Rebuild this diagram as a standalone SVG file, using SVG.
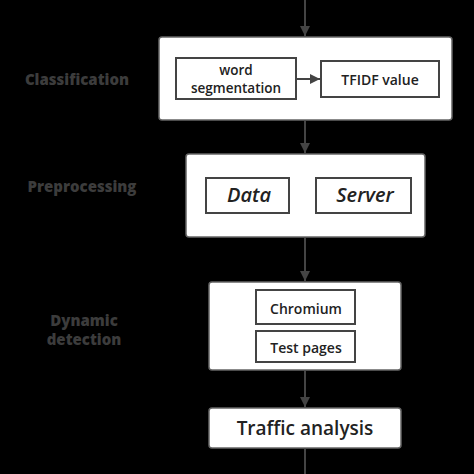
<svg xmlns="http://www.w3.org/2000/svg" width="474" height="474" viewBox="0 0 474 474">
<style>
.outer{fill:#fff;stroke:#666;stroke-width:1.5}
.inner{fill:#fff;stroke:#444;stroke-width:2}
.t{font-family:"Open Sans","Noto Sans",sans-serif;font-weight:600;fill:#222;text-anchor:middle}
.lab{font-family:"Open Sans","Noto Sans",sans-serif;font-weight:800;fill:#3c3c3c;text-anchor:middle;font-size:15px}
.c{stroke:#444;stroke-width:2;fill:none}
</style>
<defs>
<marker id="ah" viewBox="0 0 10 10" refX="10" refY="5" markerWidth="5" markerHeight="5" orient="auto" markerUnits="strokeWidth"><path d="M0,0 L10,5 L0,10 z" fill="#444"/></marker>
</defs>
<rect width="474" height="474" fill="#000"/>
<g id="labels">
<text class="lab" x="77" y="85">Classification</text>
<text class="lab" x="82" y="192">Preprocessing</text>
<text class="lab" x="84" y="326">Dynamic</text>
<text class="lab" x="84" y="345">detection</text>
</g>
<g id="classification">
<rect class="outer" x="159" y="37" width="293" height="83" rx="3"/>
<g id="word-segmentation">
<rect class="inner" x="176" y="58" width="120" height="41"/>
<text class="t" x="236" y="75" font-size="13.5">word</text>
<text class="t" x="236" y="93" font-size="13.5">segmentation</text>
</g>
<g id="tfidf">
<rect class="inner" x="321" y="61" width="118" height="36"/>
<text class="t" x="380" y="85" font-size="14">TFIDF value</text>
</g>
</g>
<g id="preprocessing">
<rect class="outer" x="186" y="154" width="239" height="83" rx="3"/>
<g id="data">
<rect class="inner" x="206" y="178" width="83" height="35"/>
<text class="t" x="249" y="202" font-size="20" font-style="italic">Data</text>
</g>
<g id="server">
<rect class="inner" x="316" y="178" width="95" height="35"/>
<text class="t" x="365" y="202" font-size="20" font-style="italic">Server</text>
</g>
</g>
<g id="dynamic-detection">
<rect class="outer" x="209" y="282" width="192" height="88" rx="3"/>
<g id="chromium">
<rect class="inner" x="256" y="290" width="99" height="34"/>
<text class="t" x="306" y="314" font-size="14">Chromium</text>
</g>
<g id="test-pages">
<rect class="inner" x="256" y="331" width="99" height="31"/>
<text class="t" x="306" y="353" font-size="14">Test pages</text>
</g>
</g>
<g id="traffic-analysis">
<rect class="outer" x="209" y="408" width="192" height="40" rx="3"/>
<text class="t" x="305" y="435" font-size="19">Traffic analysis</text>
</g>
<g id="connectors">
<line class="c" x1="305" y1="0" x2="305" y2="36" marker-end="url(#ah)"/>
<line class="c" x1="305" y1="121" x2="305" y2="153" marker-end="url(#ah)"/>
<line class="c" x1="305" y1="238" x2="305" y2="281" marker-end="url(#ah)"/>
<line class="c" x1="305" y1="371" x2="305" y2="407" marker-end="url(#ah)"/>
<line class="c" x1="305" y1="449" x2="305" y2="474"/>
<line class="c" x1="297" y1="79" x2="320" y2="79" marker-end="url(#ah)"/>
</g>
</svg>
